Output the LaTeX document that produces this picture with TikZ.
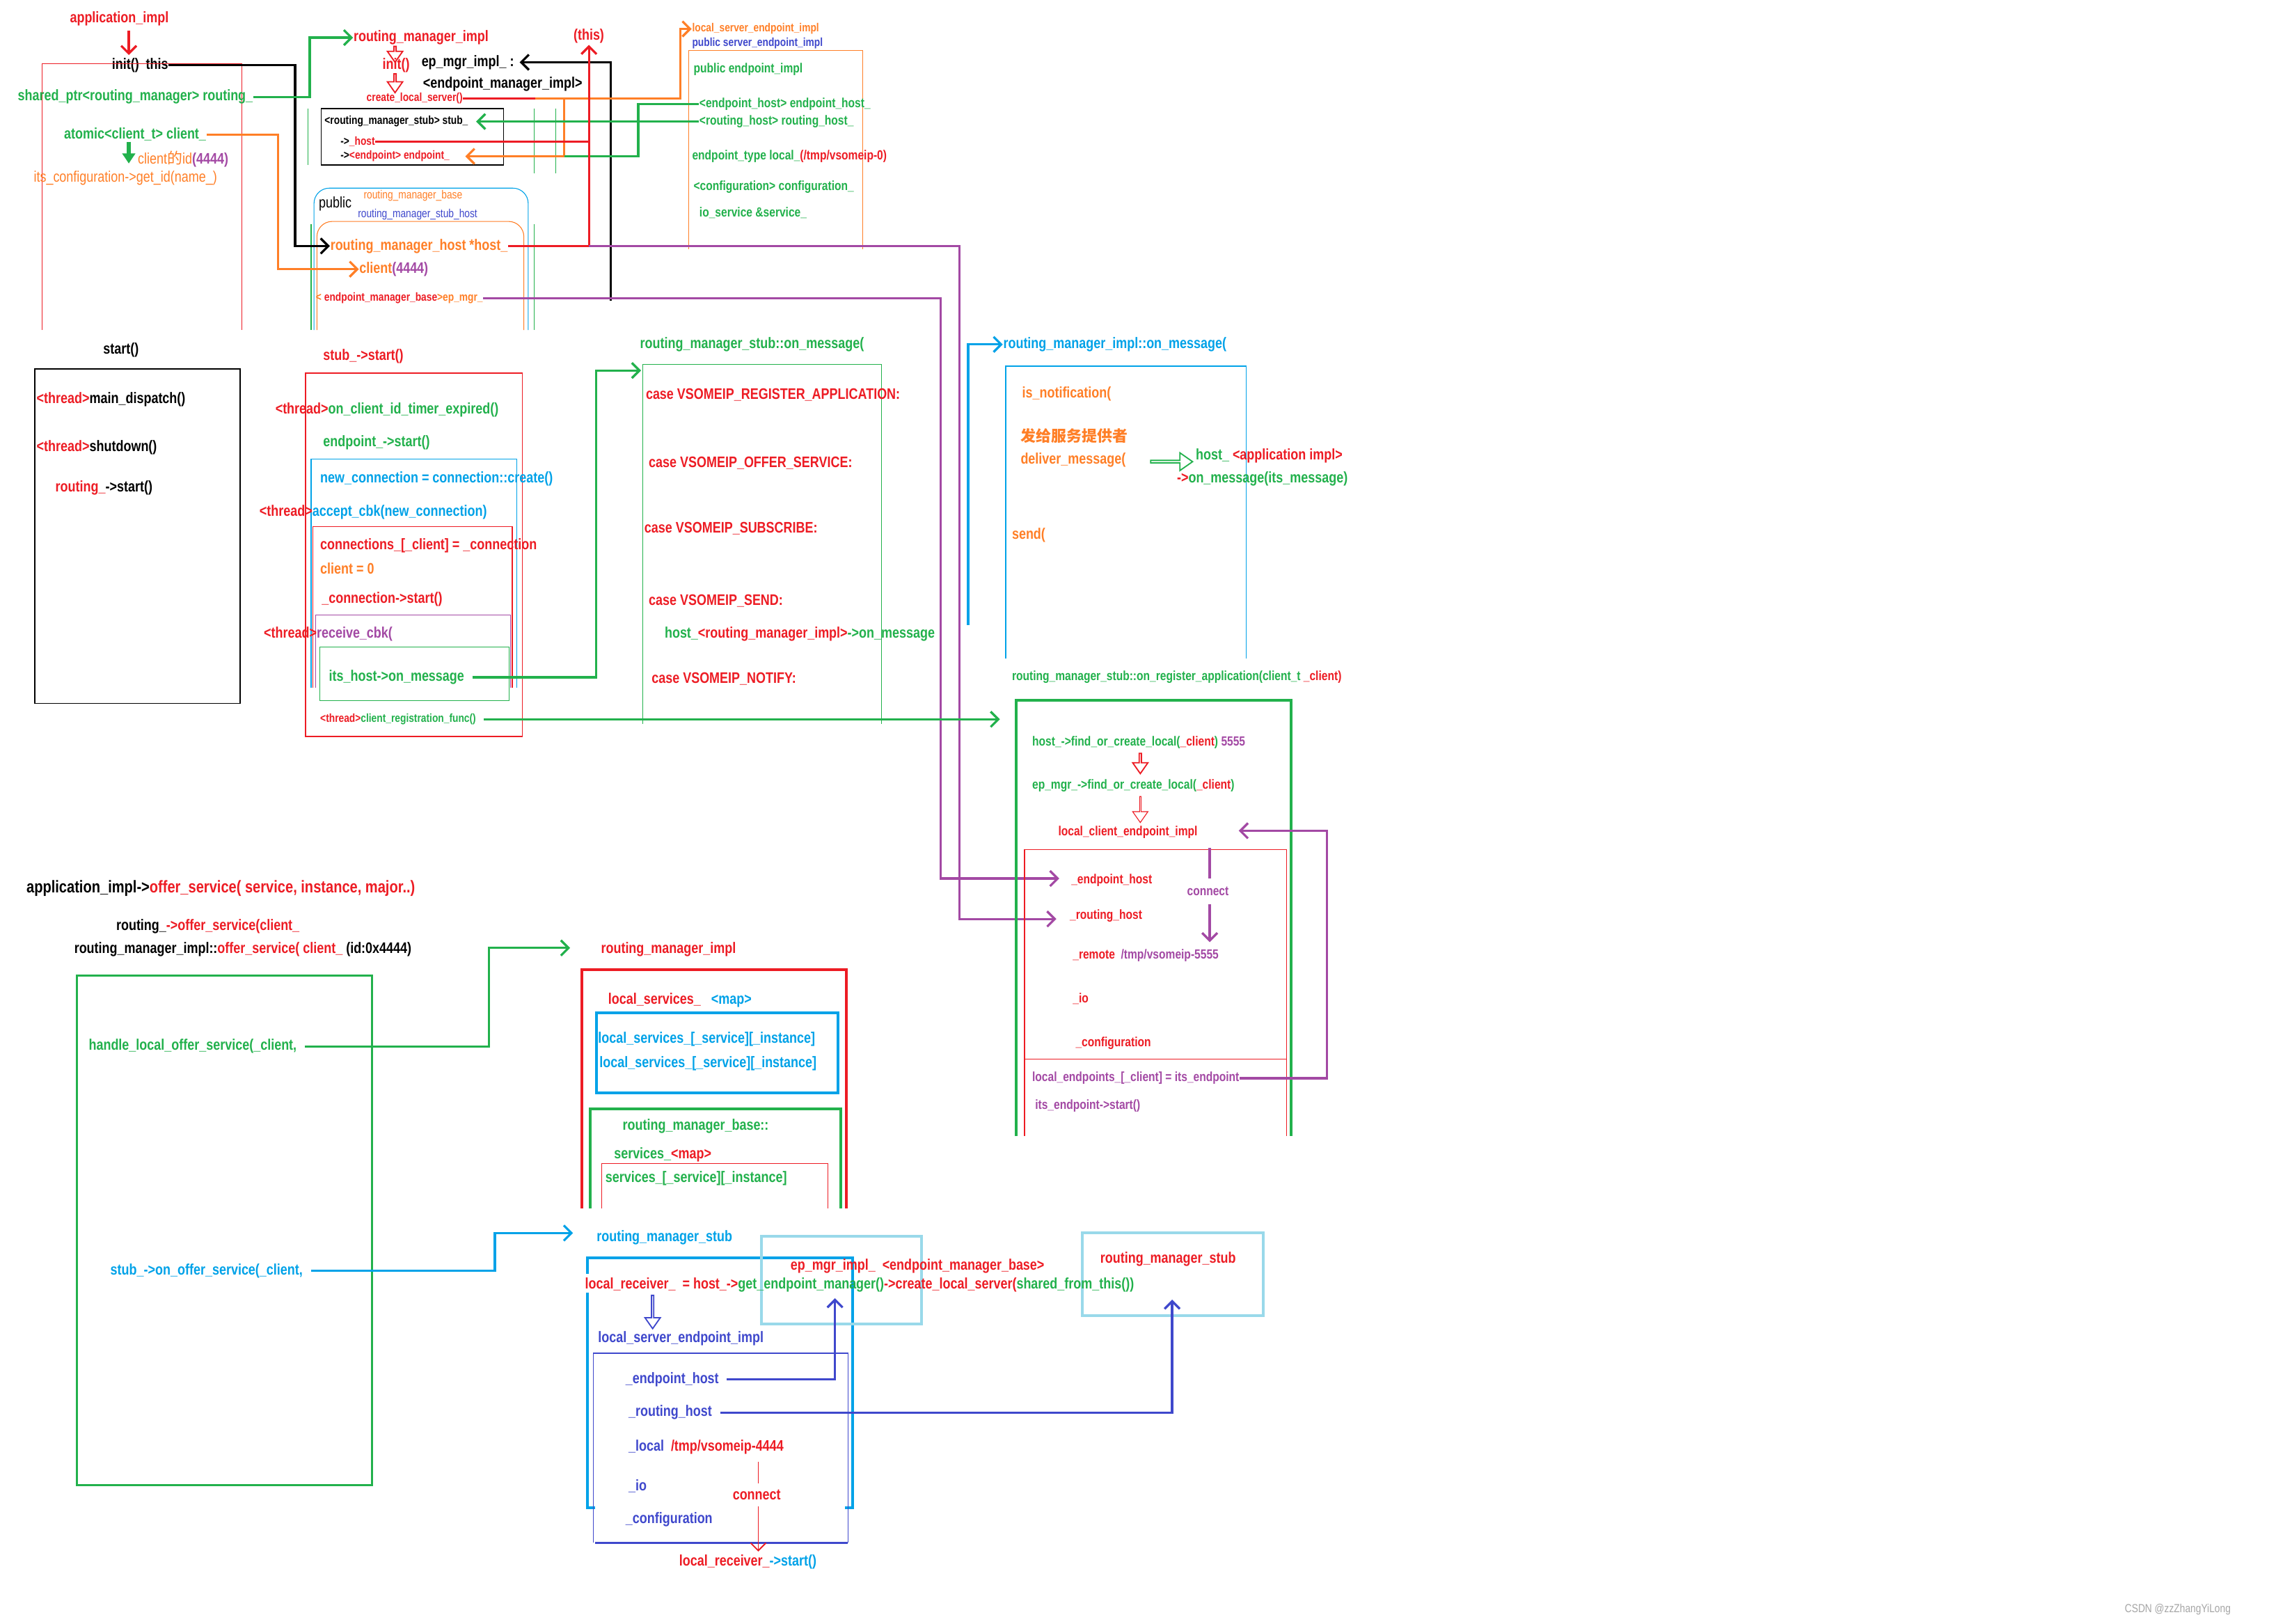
\documentclass[tikz,border=0pt]{standalone}
\usepackage{fontspec}
\setmainfont{Liberation Sans}[FakeStretch=0.82]
\newfontfamily\cjk{Noto Sans CJK SC}
\usetikzlibrary{arrows.meta,shapes.arrows}
\definecolor{cr}{HTML}{ED1C24}
\definecolor{cg}{HTML}{22B14C}
\definecolor{co}{HTML}{FF7F27}
\definecolor{cb}{HTML}{00A2E8}
\definecolor{cp}{HTML}{A349A4}
\definecolor{ci}{HTML}{3F48CC}
\definecolor{cl}{HTML}{99D9EA}
\newcommand\cR[1]{\textcolor{cr}{#1}}
\newcommand\cG[1]{\textcolor{cg}{#1}}
\newcommand\cO[1]{\textcolor{co}{#1}}
\newcommand\cB[1]{\textcolor{cb}{#1}}
\newcommand\cP[1]{\textcolor{cp}{#1}}
\newcommand\cI[1]{\textcolor{ci}{#1}}
\newcommand\cK[1]{\textcolor{black}{#1}}
\begin{document}
\begin{tikzpicture}[x=0.02cm,y=-0.02cm,
  font=\fontsize{6}{7}\selectfont\bfseries,
  t/.style={anchor=west,inner sep=0pt},
  sm/.style={font=\fontsize{4.6}{5.5}\selectfont\bfseries},
  lt/.style={font=\fontsize{6}{7}\selectfont},
  lts/.style={font=\fontsize{4.6}{5.5}\selectfont},
  big/.style={font=\fontsize{6.7}{8}\selectfont\bfseries},
  wd/.style={font=\fontsize{5.2}{6}\selectfont\bfseries},
  ar/.style={-{Straight Barb[length=3pt,width=6pt]}},
  th/.style={line width=0.9pt},
  tn/.style={line width=0.3pt},
  hr/.style={single arrow, draw=#1, fill=white, line width=0.5pt, minimum width=6pt, single arrow head extend=1.5pt, single arrow tip angle=70, minimum height=0.24cm, inner sep=0pt}]
\path[use as bounding box, fill=white] (0,0) rectangle (1568,1122);

% ===== top left =====
\node[t,text=cr] (app) at (48,13) {application\_impl};
\draw[cr,th,ar] (89,21) -- (89,38);
\node[t] (init) at (77,45) {init()\ \ this};
\draw[cr,tn] (29,228) -- (29,44) -- (167,44) -- (167,228);
\node[t,text=cg] (shp) at (12,67) {shared\_ptr<routing\_manager> routing\_};
\node[t,text=cg] (atom) at (44,93) {atomic<client\_t> client\_};
\draw[cg,line width=1.6pt,-{Triangle[length=4pt,width=5pt]}] (89,98) -- (89,113);
\node[t,lt,text=co] (cid) at (95,110) {client{\cjk 的}id\cP{\bfseries(4444)}};
\node[t,lt,text=co] (gid) at (23,123) {its\_configuration->get\_id(name\_)};

% ===== routing_manager_impl top =====
\node[t,text=cr] (rmi) at (244,26) {routing\_manager\_impl};
\node[hr=cr, rotate=-90, minimum height=0.22cm] at (273,37) {};
\node[t,text=cr] (rinit) at (264,45) {init()};
\node[hr=cr, rotate=-90, minimum height=0.26cm] at (273,57) {};
\node[t,sm,text=cr] (cls) at (253,68) {create\_local\_server()};
\node[t] (epm) at (291,43) {ep\_mgr\_impl\_ :};
\node[t] (emi) at (292,58) {<endpoint\_manager\_impl>};
\node[t,text=cr] (this2) at (396,25) {(this)};

% stub box
\draw[black,line width=0.5pt] (222,75) rectangle (348,114);
\node[t,sm] (stub) at (224,84) {<routing\_manager\_stub> stub\_};
\node[t,sm] (hst) at (235,98) {->\cR{\_host}};
\node[t,sm] (ept) at (235,108) {->\cR{<endpoint> endpoint\_}};

% public box
\draw[cb,tn,rounded corners=6] (217,228) -- (217,130) -- (365,130) -- (365,228);
\draw[co,tn,rounded corners=6] (219,228) -- (219,153) -- (362,153) -- (362,228);
\draw[cg,tn] (215,155) -- (215,228) (369,155) -- (369,228) (213,75) -- (213,114) (369,75) -- (369,120) (384,75) -- (384,120);
\node[t,lt] (pub) at (220,141) {public};
\node[t,lts,text=co] (rmb) at (251,135) {routing\_manager\_base};
\node[t,lts,text=ci] (rmsh) at (247,148) {routing\_manager\_stub\_host};
\node[t,text=co] (rmh) at (228,170) {routing\_manager\_host *host\_};
\node[t,text=co] (cl4) at (248,186) {client\cP{(4444)}};
\node[t,sm,text=cr] (epmgr) at (218,206) {\cO{<} endpoint\_manager\_base\cO{>ep\_mgr\_}};

% right top endpoint box
\node[t,sm,text=co] (lsei) at (478,20) {local\_server\_endpoint\_impl};
\node[t,sm,text=ci] (psei) at (478,30) {public server\_endpoint\_impl};
\draw[co,tn] (476,172) -- (476,35) -- (596,35) -- (596,172);
\node[t,wd,text=cg] (pei) at (479,48) {public endpoint\_impl};
\node[t,wd,text=cg] (eph) at (483,72) {<endpoint\_host> endpoint\_host\_};
\node[t,wd,text=cg] (rth) at (483,84) {<routing\_host> routing\_host\_};
\node[t,wd,text=cg] (etl) at (478,108) {endpoint\_type local\_\cR{(/tmp/vsomeip-0)}};
\node[t,wd,text=cg] (cfg) at (479,129) {<configuration> configuration\_};
\node[t,wd,text=cg] (ios) at (483,147) {io\_service \&service\_};

% top connectors
\draw[black,th,ar] (init.east) -- (204,45) |- (rmh.west);
\draw[cg,th,ar] (shp.east) -- (214,67) |- (rmi.west);
\draw[co,th,ar] (atom.east) -- (192,93) |- (cl4.west);
\draw[black,th,ar] (422,208) -- (422,43) -- ([xshift=2pt]epm.east);
\draw[cr,th] (cls.east) -- (370,68);
\draw[co,th,ar] (370,68) -- (470,68) -- (470,20) -- (lsei.west);
\draw[co,th,ar] (390,68) -- (390,108) -- ([xshift=6pt]ept.east);
\draw[cg,th] (eph.west) -- (441,72) -- (441,108) -- (390,108);
\draw[cg,th,ar] (rth.west) -- ([xshift=3pt]stub.east);
\draw[cr,th] (hst.east) -- (407,98);
\draw[cr,th,ar] (rmh.east) -- (407,170) -- (407,31);
\draw[cp,th,ar] (407,170) -- (663,170) -- (663,635) -- (730,635);
\draw[cp,th,ar] (epmgr.east) -- (650,206) -- (650,607) -- (732,607);

% ===== start block =====
\node[t] (start) at (71,242) {start()};
\draw[black,line width=0.5pt] (24,255) rectangle (166,486);
\node[t] (md) at (25,276) {\cR{<thread>}main\_dispatch()};
\node[t] (sd) at (25,309) {\cR{<thread>}shutdown()};
\node[t] (rs) at (38,337) {\cR{routing\_}->start()};

% ===== stub start block =====
\node[t,text=cr] (sst) at (223,246) {stub\_->start()};
\draw[cr,line width=0.5pt] (211,258) rectangle (361,509);
\node[t] (ocit) at (190,283) {\cR{<thread>}\cG{on\_client\_id\_timer\_expired()}};
\node[t,text=cg] (est) at (223,306) {endpoint\_->start()};
\draw[cb,tn] (215,475) -- (215,317) -- (357,317) -- (357,475);
\node[t,text=cb] (nc) at (221,331) {new\_connection = connection::create()};
\node[t] (acb) at (179,354) {\cR{<thread>}\cB{accept\_cbk(new\_connection)}};
\draw[cr,tn] (216,475) -- (216,364) -- (354,364) -- (354,475);
\node[t,text=cr] (conn) at (221,377) {connections\_[\_client] = \_connection};
\node[t,text=co] (c0) at (221,393) {client = 0};
\node[t,text=cr] (cst) at (222,414) {\_connection->start()};
\draw[cp,tn] (218,475) -- (218,425) -- (353,425) -- (353,475);
\node[t] (rcb) at (182,438) {\cR{<thread>}\cP{receive\_cbk(}};
\draw[cg,tn] (221,484) -- (221,447) -- (352,447) -- (352,484) (221,484) -- (352,484);
\node[t,text=cg] (ihom) at (227,468) {its\_host->on\_message};
\node[t,sm] (crf) at (221,497) {\cR{<thread>}\cG{client\_registration\_func()}};
\draw[cg,th,ar] ([xshift=3pt]ihom.east) -- (412,468) -- (412,256) -- (443,256);
\draw[cg,th,ar] ([xshift=3pt]crf.east) -- (691,497);

% ===== routing_manager_stub::on_message =====
\node[t,text=cg] (rsom) at (442,238) {routing\_manager\_stub::on\_message(};
\draw[cg,tn] (444,500) -- (444,252) -- (609,252) -- (609,500);
\node[t,text=cr] (c1) at (446,273) {case VSOMEIP\_REGISTER\_APPLICATION:};
\node[t,text=cr] (c2) at (448,320) {case VSOMEIP\_OFFER\_SERVICE:};
\node[t,text=cr] (c3) at (445,365) {case VSOMEIP\_SUBSCRIBE:};
\node[t,text=cr] (c4) at (448,415) {case VSOMEIP\_SEND:};
\node[t,text=cg] (hom) at (459,438) {host\_\cR{<routing\_manager\_impl>}->on\_message};
\node[t,text=cr] (c5) at (450,469) {case VSOMEIP\_NOTIFY:};

% ===== routing_manager_impl::on_message =====
\node[t,text=cb] (rmiom) at (693,238) {routing\_manager\_impl::on\_message(};
\draw[cb,th,ar] (669,432) -- (669,238) -- (rmiom.west);
\draw[cb,tn] (695,455) -- (695,253) -- (861,253) -- (861,455);
\node[t,text=co] (isn) at (706,272) {is\_notification(};
\node[t,text=co] (cn) at (705,301) {\cjk\bfseries 发给服务提供者};
\node[t,text=co] (dm) at (705,318) {deliver\_message(};
\node[hr=cg, minimum height=0.58cm, minimum width=7pt] at (809,319) {};
\node[t,text=cg] (hai) at (826,315) {host\_ \cR{<application impl>}};
\node[t,text=cg] (omi) at (813,331) {\cR{->}on\_message(its\_message)};
\node[t,text=co] (snd) at (699,370) {send(};

% ===== on_register_application =====
\node[t,wd,text=cg] (ora) at (699,468) {routing\_manager\_stub::on\_register\_application(client\_t \cR{\_client)}};
\draw[cg,line width=1.1pt] (702,785) -- (702,484) -- (892,484) -- (892,785);
\node[t,wd,text=cg] (foc) at (713,513) {host\_->find\_or\_create\_local(\cR{\_client})\ \cP{5555}};
\node[hr=cr, rotate=-90, minimum height=0.28cm] at (788,527) {};
\node[t,wd,text=cg] (foc2) at (713,543) {ep\_mgr\_->find\_or\_create\_local(\cR{\_client})};
\node[hr=cr, rotate=-90, minimum height=0.36cm, line width=0.3pt] at (788,559) {};
\node[t,wd,text=cr] (lcei) at (731,575) {local\_client\_endpoint\_impl};
\draw[cr,tn] (708,785) -- (708,587) -- (889,587) -- (889,785) (708,732) -- (889,732);
\node[t,wd,text=cr] (eh1) at (740,608) {\_endpoint\_host};
\node[t,wd,text=cr] (rh1) at (739,633) {\_routing\_host};
\node[t,wd,text=cr] (rem) at (741,660) {\_remote\ \ \cP{/tmp/vsomeip-5555}};
\node[t,wd,text=cr] (io1) at (741,690) {\_io};
\node[t,wd,text=cr] (cf1) at (743,721) {\_configuration};
\node[t,wd,text=cp] (cn1) at (820,616) {connect};
\draw[cp,th] (836,586) -- (836,607);
\draw[cp,th,ar] (836,625) -- (836,651);
\node[t,wd,text=cp] (lep) at (713,745) {local\_endpoints\_[\_client] = its\_endpoint};
\node[t,wd,text=cp] (ies) at (715,764) {its\_endpoint->start()};
\draw[cp,th,ar] (lep.east) -- (917,745) -- (917,574) -- (856,574);

% ===== offer service =====
\node[t,big] (aos) at (18,614) {application\_impl->\cR{offer\_service( service, instance, major..)}};
\node[t] (ros) at (80,640) {routing\_\cR{->offer\_service(client\_}};
\node[t] (rmos) at (51,656) {routing\_manager\_impl::\cR{offer\_service( client\_} (id:0x4444)};
\draw[cg,line width=0.8pt] (53,674) rectangle (257,1026);
\node[t,text=cg] (hlo) at (61,723) {handle\_local\_offer\_service(\_client,};
\node[t,text=cb] (soo) at (76,878) {stub\_->on\_offer\_service(\_client,};

\node[t,text=cr] (rmi2) at (415,656) {routing\_manager\_impl};
\draw[cg,th,ar] ([xshift=3pt]hlo.east) -- (338,723) -- (338,655) -- (394,655);
\draw[cr,line width=1.1pt] (402,835) -- (402,670) -- (585,670) -- (585,835);
\node[t,text=cr] (ls) at (420,691) {local\_services\_\ \ \ \cB{<map>}};
\draw[cb,line width=1.1pt] (412,700) rectangle (579,755);
\node[t,text=cb] (ls1) at (413,718) {local\_services\_[\_service][\_instance]};
\node[t,text=cb] (ls2) at (414,735) {local\_services\_[\_service][\_instance]};
\draw[cg,line width=1.1pt] (408,835) -- (408,766) -- (581,766) -- (581,835);
\node[t,text=cg] (rmbs) at (430,778) {routing\_manager\_base::};
\node[t,text=cg] (svm) at (424,798) {services\_\cR{<map>}};
\draw[cr,tn] (416,835) -- (416,804) -- (572,804) -- (572,835);
\node[t,text=cg] (svs) at (418,814) {services\_[\_service][\_instance]};

% ===== routing_manager_stub bottom =====
\node[t,text=cb] (rms) at (412,855) {routing\_manager\_stub};
\draw[cb,th,ar] ([xshift=3pt]soo.east) -- (342,878) -- (342,852) -- (396,852);
\draw[cb,line width=1.1pt] (406,880) -- (406,869) -- (589,869) -- (589,1042) -- (584,1042) (406,893) -- (406,1042) -- (411,1042);
\draw[cl,line width=1.1pt] (526,854) rectangle (637,915);
\draw[cl,line width=1.1pt] (748,852) rectangle (873,909);
\node[t,text=cr] (emb) at (546,875) {ep\_mgr\_impl\_\ \ <endpoint\_manager\_base>};
\node[t,text=cr] (rms2) at (760,870) {routing\_manager\_stub};
\node[t,text=cr] (lrc) at (404,888) {local\_receiver\_\ \ = host\_->\cG{get\_endpoint\_manager()}->create\_local\_server(\cG{shared\_from\_this())}};
\node[hr=ci, rotate=-90, minimum height=0.46cm] at (451,906) {};
\node[t,text=ci] (lsei2) at (413,925) {local\_server\_endpoint\_impl};
\draw[ci,tn] (410,1066) -- (410,935) -- (586,935) -- (586,1066);
\draw[ci,th] (411,1066) -- (586,1066);
\node[t,text=ci] (eh3) at (432,953) {\_endpoint\_host};
\node[t,text=ci] (rh3) at (434,976) {\_routing\_host};
\node[t,text=ci] (loc) at (434,1000) {\_local\ \ \cR{/tmp/vsomeip-4444}};
\node[t,text=ci] (io3) at (434,1027) {\_io};
\node[t,text=ci] (cf3) at (432,1050) {\_configuration};
\draw[ci,th,ar] ([xshift=3pt]eh3.east) -- (577,953) -- (577,897);
\draw[ci,th,ar] ([xshift=3pt]rh3.east) -- (810,976) -- (810,898);
\node[t,text=cr] (cn3) at (506,1033) {connect};
\draw[cr,line width=0.5pt] (524,1010) -- (524,1025);
\draw[cr,line width=0.5pt,ar] (524,1041) -- (524,1072);
\node[t,text=cr] (lrs) at (469,1079) {local\_receiver\_\cB{->start()}};

\node[t,lts,text=gray!70] (csdn) at (1468,1112) {CSDN @zzZhangYiLong};
\end{tikzpicture}
\end{document}
